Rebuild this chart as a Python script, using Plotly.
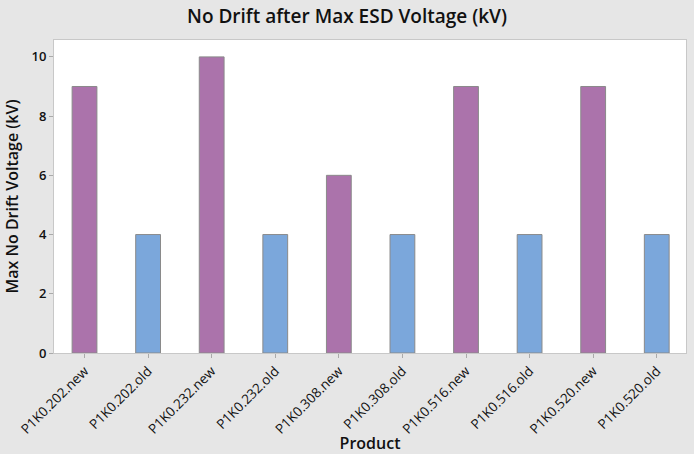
import plotly.graph_objects as go

products = ["P1K0.202.new", "P1K0.202.old", "P1K0.232.new", "P1K0.232.old",
            "P1K0.308.new", "P1K0.308.old", "P1K0.516.new", "P1K0.516.old",
            "P1K0.520.new", "P1K0.520.old"]
voltage = [9, 4, 10, 4, 6, 4, 9, 4, 9, 4]
colors = ["#ab73ab" if p.endswith("new") else "#7ba7db" for p in products]

fig = go.Figure(go.Bar(
    x=products, y=voltage, width=0.39,
    marker=dict(color=colors, line=dict(color="#8a8a8a", width=1)),
))

font = "Open Sans, Segoe UI, sans-serif"
fig.update_layout(
    width=694, height=454,
    margin=dict(l=54, r=8, t=40, b=101),
    paper_bgcolor="#e6e6e6", plot_bgcolor="white",
    font=dict(family=font, color="#111"),
    title=dict(text="No Drift after Max ESD Voltage (kV)", x=0.5, xanchor="center",
               y=0.965, yanchor="middle", font=dict(size=19, color="#111", weight=600)),
    showlegend=False,
)
fig.update_xaxes(
    range=[-0.48, 9.46], tickangle=-45, ticks="outside", ticklen=4, tickcolor="#aaa",
    tickfont=dict(size=13.5, color="#111"), automargin=False,
    title=dict(text="Product", font=dict(size=16, weight=600), standoff=2),
    showline=True, linecolor="#c8c8c8", mirror=True, showgrid=False,
)
fig.update_yaxes(
    range=[0, 10.57], tickvals=[0, 2, 4, 6, 8, 10], ticks="outside", ticklen=4, tickcolor="#aaa",
    tickfont=dict(size=13, color="#111", weight=600), automargin=False,
    title=dict(text="Max No Drift Voltage (kV)", font=dict(size=16, weight=600), standoff=8),
    showline=True, linecolor="#c8c8c8", mirror=True, showgrid=False, zeroline=False,
)

fig.write_html("out.html")
